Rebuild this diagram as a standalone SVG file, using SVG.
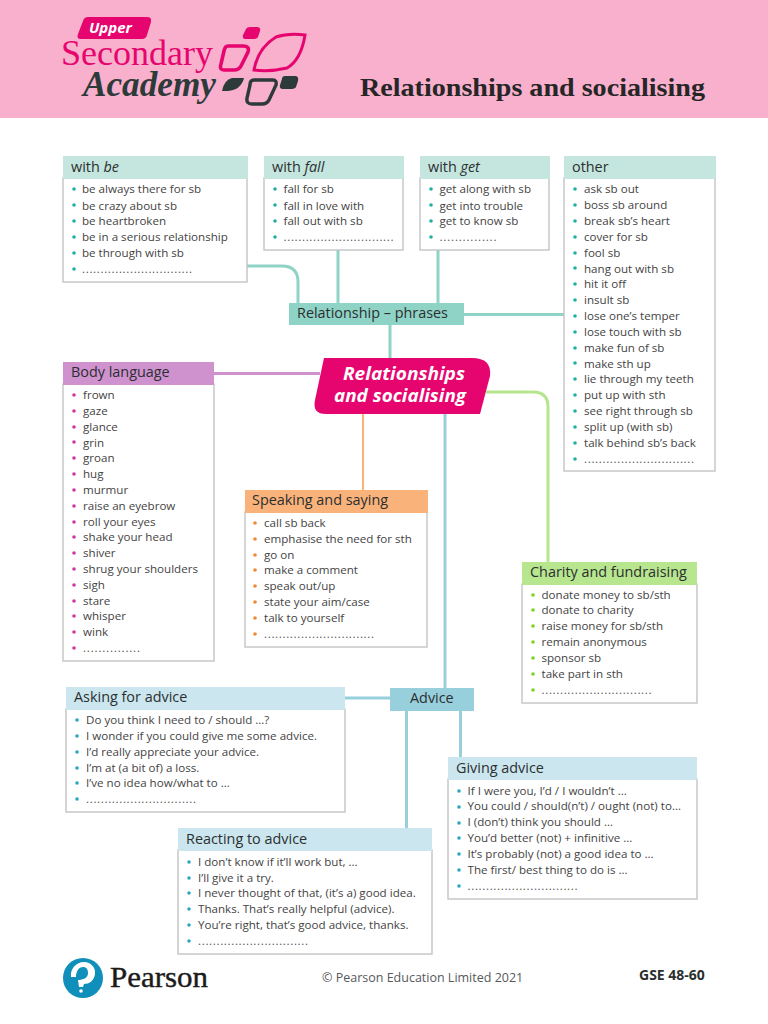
<svg xmlns="http://www.w3.org/2000/svg" width="768" height="1024" viewBox="0 0 768 1024">
<style>
text{font-family:"Open Sans","Noto Sans","DejaVu Sans",sans-serif}
.t{font-size:11.6px;fill:#444}
.d{font-size:11.6px;fill:#555}
.h{font-size:14.4px;font-weight:500;fill:#2b2f30}
.b{fill:#fff;stroke:#c4c4c4;stroke-width:1.4}
.c{fill:none;stroke-width:3}
.g circle{fill:#1fb0a2}
.p circle{fill:#d0389f}
.o circle{fill:#f08a2c}
.l circle{fill:#7ed321}
.a circle{fill:#2aa6c0}
.tl{fill:#c4e6de}.ad{fill:#cbe6ee}
</style>
<rect width="768" height="1024" fill="#fff"/>
<g id="header">
<rect width="768" height="118" fill="#f9b0cd"/>
<path d="M83 21Q84 17 88 17H147Q152 17 151 22L147 35Q146 39 142 39H81Q76 39 78 34Z" fill="#e6056e"/>
<text x="89" y="33" font-size="15" font-weight="700" font-style="italic" fill="#fff">Upper</text>
<text x="61" y="65" font-size="35" textLength="152" lengthAdjust="spacingAndGlyphs" style="font-family:'Liberation Serif',serif" fill="#e6056e">Secondary</text>
<text x="83" y="96" font-size="35" font-weight="700" font-style="italic" textLength="133" lengthAdjust="spacingAndGlyphs" style="font-family:'Liberation Serif',serif" fill="#2d3a3a">Academy</text>
<path d="M246 29Q247 27 250 27H257Q261 27 260 31L258 37Q257 39 254 39H246Q242 39 243 35Z" fill="#e6056e"/>
<path d="M228 46H243Q250 46 248 52L241 66Q239 70 234 70H224Q219 70 221 64L224 51Q225 46 228 46Z" fill="none" stroke="#e6056e" stroke-width="3.6"/>
<path d="M305 35Q301 60 287 68Q270 72 254 70Q258 48 276 37Q288 33 305 35Z" fill="none" stroke="#e6056e" stroke-width="3"/>
<path d="M232 78H244Q241 90 228 91H222Q224 80 232 78Z" fill="#2d3a3a"/>
<path d="M285 76H295Q299 76 298 81L296 87Q295 89 290 89H283Q279 89 280 85L282 79Q282 76 285 76Z" fill="#2d3a3a"/>
<path d="M254 80H273Q277 80 276 85L269 100Q267 104 262 104H252Q246 104 247 98L250 85Q250 80 254 80Z" fill="none" stroke="#2d3a3a" stroke-width="3.4"/>
<text x="360" y="96" font-size="26" font-weight="700" textLength="345" lengthAdjust="spacingAndGlyphs" style="font-family:'Liberation Serif',serif" fill="#262626">Relationships and socialising</text>
</g>
<g id="connectors">
<path class="c" stroke="#8fd3c6" d="M247 266H282Q298 266 298 282V303M338 250V303M438 250V303M464 314.500H564M390 325V358"/>
<path class="c" stroke="#cf92cf" d="M214 373.500H320"/>
<path class="c" stroke="#b5e58c" d="M486 392H533Q548 392 548 407V562"/>
<path d="M363 414V490" fill="none" stroke="#f9b27a" stroke-width="2"/>
<path class="c" stroke="#98cfdd" d="M445 414V688M345 698H390M406.500 710V828M460.500 710V757"/>
</g>
<g id="with-be" class="g">
<rect class="b" x="63" y="178" width="184" height="104"/><rect class="tl" x="63" y="156" width="185" height="23"/>
<text class="h" x="71" y="172">with <tspan font-style="italic">be</tspan></text>
<circle cx="74" cy="189" r="1.8"/><text class="t" x="82" y="193">be always there for sb</text>
<circle cx="74" cy="205" r="1.8"/><text class="t" x="82" y="209.500">be crazy about sb</text>
<circle cx="74" cy="221" r="1.8"/><text class="t" x="82" y="225">be heartbroken</text>
<circle cx="74" cy="237" r="1.8"/><text class="t" x="82" y="241">be in a serious relationship</text>
<circle cx="74" cy="253" r="1.8"/><text class="t" x="82" y="256.500">be through with sb</text>
<circle cx="74" cy="269" r="1.8"/><text class="d" x="82" y="273" textLength="110">..............................</text>
</g>
<g id="with-fall" class="g">
<rect class="b" x="264" y="178" width="139" height="72"/><rect class="tl" x="264" y="156" width="140" height="23"/>
<text class="h" x="272" y="172">with <tspan font-style="italic">fall</tspan></text>
<circle cx="275" cy="189" r="1.8"/><text class="t" x="283.500" y="193">fall for sb</text>
<circle cx="275" cy="205" r="1.8"/><text class="t" x="283.500" y="209.500">fall in love with</text>
<circle cx="275" cy="221" r="1.8"/><text class="t" x="283.500" y="225">fall out with sb</text>
<circle cx="275" cy="237" r="1.8"/><text class="d" x="283.500" y="241" textLength="110">..............................</text>
</g>
<g id="with-get" class="g">
<rect class="b" x="420" y="178" width="129" height="72"/><rect class="tl" x="420" y="156" width="130" height="23"/>
<text class="h" x="428" y="172">with <tspan font-style="italic">get</tspan></text>
<circle cx="431" cy="189" r="1.8"/><text class="t" x="439.500" y="193">get along with sb</text>
<circle cx="431" cy="205" r="1.8"/><text class="t" x="439.500" y="209.500">get into trouble</text>
<circle cx="431" cy="221" r="1.8"/><text class="t" x="439.500" y="225">get to know sb</text>
<circle cx="431" cy="237" r="1.8"/><text class="d" x="439.500" y="241" textLength="57">...............</text>
</g>
<g id="other" class="g">
<rect class="b" x="564" y="178" width="151" height="293"/><rect class="tl" x="564" y="156" width="152" height="23"/>
<text class="h" x="572" y="172">other</text>
<circle cx="575" cy="189" r="1.8"/><text class="t" x="584" y="193">ask sb out</text>
<circle cx="575" cy="205" r="1.8"/><text class="t" x="584" y="209">boss sb around</text>
<circle cx="575" cy="221" r="1.8"/><text class="t" x="584" y="225">break sb’s heart</text>
<circle cx="575" cy="237" r="1.8"/><text class="t" x="584" y="241">cover for sb</text>
<circle cx="575" cy="253" r="1.8"/><text class="t" x="584" y="256.500">fool sb</text>
<circle cx="575" cy="268" r="1.8"/><text class="t" x="584" y="272.500">hang out with sb</text>
<circle cx="575" cy="284" r="1.8"/><text class="t" x="584" y="288">hit it off</text>
<circle cx="575" cy="300" r="1.8"/><text class="t" x="584" y="304">insult sb</text>
<circle cx="575" cy="316" r="1.8"/><text class="t" x="584" y="320">lose one’s temper</text>
<circle cx="575" cy="332" r="1.8"/><text class="t" x="584" y="335.500">lose touch with sb</text>
<circle cx="575" cy="348" r="1.8"/><text class="t" x="584" y="351.500">make fun of sb</text>
<circle cx="575" cy="363" r="1.8"/><text class="t" x="584" y="367.500">make sth up</text>
<circle cx="575" cy="379" r="1.8"/><text class="t" x="584" y="383">lie through my teeth</text>
<circle cx="575" cy="395" r="1.8"/><text class="t" x="584" y="399">put up with sth</text>
<circle cx="575" cy="411" r="1.8"/><text class="t" x="584" y="414.500">see right through sb</text>
<circle cx="575" cy="427" r="1.8"/><text class="t" x="584" y="430.500">split up (with sb)</text>
<circle cx="575" cy="443" r="1.8"/><text class="t" x="584" y="446.500">talk behind sb’s back</text>
<circle cx="575" cy="459" r="1.8"/><text class="d" x="584" y="463" textLength="110">..............................</text>
</g>
<g id="relationship-phrases">
<rect x="289" y="303" width="175" height="22" fill="#8fd3c6"/>
<text class="h" x="297" y="318">Relationship – phrases</text>
</g>
<g id="centre">
<path d="M324 358H472Q492 358 490 376L480 414H326Q312 414 315 400Z" fill="#e6056e"/>
<text x="404" y="380" text-anchor="middle" font-size="17.500" font-weight="700" font-style="italic" fill="#fff" textLength="122" lengthAdjust="spacingAndGlyphs">Relationships</text>
<text x="400" y="402" text-anchor="middle" font-size="17.500" font-weight="700" font-style="italic" fill="#fff" textLength="132" lengthAdjust="spacingAndGlyphs">and socialising</text>
</g>
<g id="body-language" class="p">
<rect class="b" x="63" y="384" width="151" height="277"/><rect x="63" y="362" width="151" height="23" fill="#cf92cf"/>
<text class="h" x="71" y="377">Body language</text>
<circle cx="74" cy="395" r="1.8"/><text class="t" x="83" y="399">frown</text>
<circle cx="74" cy="411" r="1.8"/><text class="t" x="83" y="414.500">gaze</text>
<circle cx="74" cy="427" r="1.8"/><text class="t" x="83" y="430.500">glance</text>
<circle cx="74" cy="442" r="1.8"/><text class="t" x="83" y="446.500">grin</text>
<circle cx="74" cy="458" r="1.8"/><text class="t" x="83" y="462">groan</text>
<circle cx="74" cy="474" r="1.8"/><text class="t" x="83" y="478">hug</text>
<circle cx="74" cy="490" r="1.8"/><text class="t" x="83" y="494">murmur</text>
<circle cx="74" cy="506" r="1.8"/><text class="t" x="83" y="509.500">raise an eyebrow</text>
<circle cx="74" cy="522" r="1.8"/><text class="t" x="83" y="525.500">roll your eyes</text>
<circle cx="74" cy="537" r="1.8"/><text class="t" x="83" y="541">shake your head</text>
<circle cx="74" cy="553" r="1.8"/><text class="t" x="83" y="557">shiver</text>
<circle cx="74" cy="569" r="1.8"/><text class="t" x="83" y="573">shrug your shoulders</text>
<circle cx="74" cy="585" r="1.8"/><text class="t" x="83" y="588.500">sigh</text>
<circle cx="74" cy="601" r="1.8"/><text class="t" x="83" y="604.500">stare</text>
<circle cx="74" cy="616" r="1.8"/><text class="t" x="83" y="620">whisper</text>
<circle cx="74" cy="632" r="1.8"/><text class="t" x="83" y="636">wink</text>
<circle cx="74" cy="648" r="1.8"/><text class="d" x="83" y="652" textLength="57">...............</text>
</g>
<g id="speaking" class="o">
<rect class="b" x="245" y="512" width="182" height="135"/><rect x="245" y="490" width="183" height="23" fill="#f9b27a"/>
<text class="h" x="252" y="505">Speaking and saying</text>
<circle cx="255" cy="523" r="1.8"/><text class="t" x="264" y="527">call sb back</text>
<circle cx="255" cy="539" r="1.8"/><text class="t" x="264" y="543">emphasise the need for sth</text>
<circle cx="255" cy="555" r="1.8"/><text class="t" x="264" y="558.500">go on</text>
<circle cx="255" cy="570" r="1.8"/><text class="t" x="264" y="574">make a comment</text>
<circle cx="255" cy="586" r="1.8"/><text class="t" x="264" y="590">speak out/up</text>
<circle cx="255" cy="602" r="1.8"/><text class="t" x="264" y="606">state your aim/case</text>
<circle cx="255" cy="618" r="1.8"/><text class="t" x="264" y="621.500">talk to yourself</text>
<circle cx="255" cy="634" r="1.8"/><text class="d" x="264" y="638" textLength="110">..............................</text>
</g>
<g id="charity" class="l">
<rect class="b" x="522" y="584" width="175" height="119"/><rect x="522" y="562" width="175" height="23" fill="#b8e68f"/>
<text class="h" x="530" y="577">Charity and fundraising</text>
<circle cx="533" cy="595" r="1.8"/><text class="t" x="541.500" y="598.500">donate money to sb/sth</text>
<circle cx="533" cy="610" r="1.8"/><text class="t" x="541.500" y="614">donate to charity</text>
<circle cx="533" cy="626" r="1.8"/><text class="t" x="541.500" y="630">raise money for sb/sth</text>
<circle cx="533" cy="642" r="1.8"/><text class="t" x="541.500" y="646">remain anonymous</text>
<circle cx="533" cy="658" r="1.8"/><text class="t" x="541.500" y="662">sponsor sb</text>
<circle cx="533" cy="674" r="1.8"/><text class="t" x="541.500" y="677.500">take part in sth</text>
<circle cx="533" cy="690" r="1.8"/><text class="d" x="541.500" y="694" textLength="110">..............................</text>
</g>
<g id="asking" class="a">
<rect class="b" x="66" y="709" width="279" height="103"/><rect class="ad" x="66" y="687" width="279" height="23"/>
<text class="h" x="74" y="702">Asking for advice</text>
<circle cx="77" cy="720" r="1.8"/><text class="t" x="86" y="724">Do you think I need to / should …?</text>
<circle cx="77" cy="736" r="1.8"/><text class="t" x="86" y="739.500">I wonder if you could give me some advice.</text>
<circle cx="77" cy="752" r="1.8"/><text class="t" x="86" y="755.500">I’d really appreciate your advice.</text>
<circle cx="77" cy="768" r="1.8"/><text class="t" x="86" y="771.500">I’m at (a bit of) a loss.</text>
<circle cx="77" cy="783" r="1.8"/><text class="t" x="86" y="787">I’ve no idea how/what to …</text>
<circle cx="77" cy="799" r="1.8"/><text class="d" x="86" y="803" textLength="110">..............................</text>
</g>
<g id="advice">
<rect x="390" y="688" width="84" height="23" fill="#98cfdd"/>
<text class="h" x="410" y="703">Advice</text>
</g>
<g id="giving" class="a">
<rect class="b" x="448" y="779" width="249" height="120"/><rect class="ad" x="448" y="757" width="249" height="23"/>
<text class="h" x="456" y="773">Giving advice</text>
<circle cx="459" cy="791" r="1.8"/><text class="t" x="467.500" y="794.500">If I were you, I’d / I wouldn’t …</text>
<circle cx="459" cy="807" r="1.8"/><text class="t" x="467.500" y="810">You could / should(n’t) / ought (not) to…</text>
<circle cx="459" cy="823" r="1.8"/><text class="t" x="467.500" y="826">I (don’t) think you should …</text>
<circle cx="459" cy="838" r="1.8"/><text class="t" x="467.500" y="842">You’d better (not) + infinitive …</text>
<circle cx="459" cy="854" r="1.8"/><text class="t" x="467.500" y="858">It’s probably (not) a good idea to …</text>
<circle cx="459" cy="870" r="1.8"/><text class="t" x="467.500" y="874">The first/ best thing to do is …</text>
<circle cx="459" cy="886" r="1.8"/><text class="d" x="467.500" y="890" textLength="110">..............................</text>
</g>
<g id="reacting" class="a">
<rect class="b" x="178" y="850" width="254" height="104"/><rect class="ad" x="178" y="828" width="254" height="23"/>
<text class="h" x="186" y="844">Reacting to advice</text>
<circle cx="189" cy="862" r="1.8"/><text class="t" x="198" y="865.500">I don’t know if it’ll work but, …</text>
<circle cx="189" cy="878" r="1.8"/><text class="t" x="198" y="881.500">I’ll give it a try.</text>
<circle cx="189" cy="893" r="1.8"/><text class="t" x="198" y="897">I never thought of that, (it’s a) good idea.</text>
<circle cx="189" cy="909" r="1.8"/><text class="t" x="198" y="913">Thanks. That’s really helpful (advice).</text>
<circle cx="189" cy="925" r="1.8"/><text class="t" x="198" y="929">You’re right, that’s good advice, thanks.</text>
<circle cx="189" cy="941" r="1.8"/><text class="d" x="198" y="945" textLength="110">..............................</text>
</g>
<g id="footer">
<circle cx="83" cy="978" r="20" fill="#0f8fb9"/>
<path d="M71 977C70 969 76 962 84 962C91 962 96 968 95 974C94 981 89 984 84 984L83 987H79L78 980C83 980 88 978 88 973C88 969 86 967 83 967C79 967 76 971 76 977Z" fill="#fff"/>
<circle cx="81" cy="991" r="1.800" fill="#fff"/>
<text x="110" y="987" font-size="29" textLength="98" lengthAdjust="spacingAndGlyphs" stroke="#1d1a1a" stroke-width="0.4" style="font-family:'Liberation Serif',serif" fill="#1d1a1a">Pearson</text>
<text x="322" y="982" font-size="12.500" fill="#55595c">© Pearson Education Limited 2021</text>
<text x="639" y="980" font-size="14" font-weight="700" fill="#2b2f30">GSE 48-60</text>
</g>
</svg>
